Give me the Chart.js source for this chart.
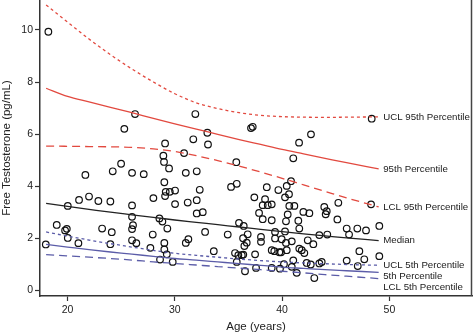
<!DOCTYPE html>
<html>
<head>
<meta charset="utf-8">
<script src="https://cdn.jsdelivr.net/npm/chart.js@4.4.1/dist/chart.umd.min.js"></script>
<style>
  body { margin: 0; background: #fff; }
</style>
</head>
<body>
<canvas id="myChart" width="474" height="334"></canvas>
<script>
// observed free testosterone per subject
const pointAge = [
  18.21, 26.29, 25.29, 24.99, 21.66, 24.21, 26.01, 27.10, 31.91, 33.03,
  31.72, 33.09, 37.10, 37.26, 29.09, 28.93, 28.99, 29.46, 30.86, 31.02,
  32.04, 29.02, 29.15, 29.53, 30.02, 32.32, 35.24, 35.77, 38.57, 35.73,
  48.35, 42.69, 41.58, 41.04, 40.83, 40.43, 39.65, 40.64, 20.02, 21.07,
  22.00, 22.87, 23.99, 26.01, 28.00, 26.01, 26.10, 26.01, 18.99, 19.93,
  19.77, 20.02, 23.22, 24.12, 27.94, 17.97, 21.01, 23.99, 26.01, 26.41,
  27.72, 29.09, 30.02, 31.20, 32.04, 32.04, 32.60, 28.56, 28.84, 29.30,
  37.41, 38.41, 38.19, 38.66, 37.85, 38.19, 35.98, 36.42, 32.82, 34.93,
  36.79, 36.36, 36.70, 36.48, 38.03, 38.03, 31.26, 31.02, 29.02, 29.02,
  29.25, 33.63, 35.61, 36.24, 36.38, 35.92, 37.48, 35.77, 36.54, 37.57,
  28.62, 29.80, 48.29, 45.24, 40.27, 39.03, 40.67, 41.14, 40.52, 41.98,
  42.54, 43.93, 44.16, 44.06, 39.03, 40.36, 41.51, 45.15, 41.60, 39.34,
  40.27, 46.02, 47.01, 47.82, 49.06, 46.24, 43.47, 44.21, 39.34, 39.96,
  40.36, 40.90, 42.39, 42.91, 39.03, 39.27, 39.74, 39.90, 40.43, 41.60,
  41.83, 42.07, 47.20, 47.66, 49.06, 46.02, 47.05, 41.04, 40.17, 39.80,
  40.90, 42.29, 42.67, 43.47, 43.69, 39.03, 41.36, 43.00
];
const pointFT = [
  9.93, 6.77, 6.20, 4.86, 4.43, 4.57, 4.51, 4.46, 6.77, 6.05,
  5.80, 5.60, 6.23, 6.28, 5.64, 5.17, 4.93, 4.68, 5.27, 4.51,
  4.57, 4.15, 3.78, 3.78, 3.83, 3.86, 3.97, 4.09, 3.96, 4.92,
  6.59, 5.99, 5.67, 5.07, 4.19, 4.01, 3.85, 3.69, 3.24, 3.47,
  3.60, 3.43, 3.41, 3.26, 3.54, 2.82, 2.50, 2.35, 2.51, 2.36,
  2.30, 2.01, 2.37, 2.23, 2.14, 1.76, 1.81, 1.77, 1.92, 1.81,
  1.63, 3.62, 3.31, 3.37, 3.46, 2.95, 3.00, 2.76, 2.64, 2.37,
  3.57, 3.50, 3.27, 3.27, 2.97, 2.73, 2.59, 2.47, 2.24, 2.14,
  2.15, 2.00, 1.83, 1.70, 2.05, 1.86, 1.96, 1.82, 1.82, 1.57,
  1.38, 1.50, 1.43, 1.35, 1.37, 1.35, 1.38, 1.09, 0.73, 0.86,
  1.18, 1.09, 3.30, 3.36, 3.57, 3.30, 3.24, 3.24, 2.91, 3.01,
  2.96, 3.20, 3.04, 2.92, 2.69, 2.65, 2.67, 2.72, 2.37, 2.24,
  2.26, 2.37, 2.37, 2.30, 2.47, 2.14, 2.12, 2.14, 1.99, 1.96,
  1.82, 1.88, 1.92, 1.77, 1.54, 1.50, 1.46, 1.46, 1.54, 1.60,
  1.54, 1.43, 1.50, 1.19, 1.31, 1.14, 0.93, 1.15, 1.00, 0.83,
  0.90, 1.05, 0.99, 1.03, 1.09, 0.86, 0.67, 0.47
];

// fitted percentile curves and their confidence limits
const curveAge = [18, 20, 22, 24, 26, 28, 30, 32, 34, 36, 38, 40, 42, 44, 46, 49];
const ucl95 = [10.96, 10.30, 9.65, 9.05, 8.50, 8.00, 7.55, 7.20, 6.98, 6.82, 6.72, 6.67, 6.65, 6.64, 6.65, 6.66];
const p95   = [7.76, 7.45, 7.24, 7.03, 6.82, 6.60, 6.39, 6.19, 5.99, 5.79, 5.60, 5.41, 5.24, 5.07, 4.90, 4.66];
const lcl95 = [5.54, 5.53, 5.52, 5.51, 5.49, 5.43, 5.33, 5.17, 4.98, 4.77, 4.54, 4.30, 4.05, 3.80, 3.55, 3.20];
const median = [3.34, 3.22, 3.11, 3.00, 2.90, 2.80, 2.70, 2.61, 2.52, 2.43, 2.34, 2.25, 2.17, 2.09, 2.01, 1.91];
const ucl5  = [2.24, 2.08, 1.93, 1.79, 1.66, 1.53, 1.42, 1.34, 1.27, 1.20, 1.14, 1.09, 1.05, 1.02, 0.99, 0.96];
const p5    = [1.76, 1.66, 1.56, 1.47, 1.39, 1.30, 1.22, 1.16, 1.09, 1.02, 0.96, 0.89, 0.84, 0.79, 0.75, 0.69];
const lcl5  = [1.37, 1.32, 1.27, 1.22, 1.16, 1.09, 1.03, 0.97, 0.91, 0.85, 0.79, 0.73, 0.67, 0.60, 0.54, 0.45];

const xTicks = [20, 30, 40, 50];
const yTicks = [0, 2, 4, 6, 8, 10];

const RED = '#e2493f';
const BLUE = '#5b5ca8';
const FONT = '"Liberation Sans", Arial, sans-serif';

function toXY(xs, ys) {
  return xs.map((v, i) => ({ x: v, y: ys[i] }));
}

function curve(label, values, color, dash) {
  return {
    type: 'line',
    endLabel: label,
    data: toXY(curveAge, values),
    borderColor: color,
    borderWidth: 1.3,
    borderDash: dash,
    pointRadius: 0,
    fill: false,
    cubicInterpolationMode: 'monotone'
  };
}

// writes the curve names at the right end, pushed down when they crowd
const curveLabels = {
  id: 'curveLabels',
  afterDatasetsDraw(chart) {
    const { ctx, scales: { x, y } } = chart;
    ctx.save();
    ctx.font = '9.7px ' + FONT;
    ctx.fillStyle = '#1a1a1a';
    ctx.textBaseline = 'middle';
    let prev = -Infinity;
    chart.data.datasets.forEach(ds => {
      if (!ds.endLabel) return;
      const last = ds.data[ds.data.length - 1];
      const py = Math.max(y.getPixelForValue(last.y), prev + 11);
      ctx.fillText(ds.endLabel, x.getPixelForValue(last.x) + 4.5, py);
      prev = py;
    });
    ctx.restore();
  }
};

// right side of the frame
const rightEdge = {
  id: 'rightEdge',
  afterDraw(chart) {
    const { ctx, chartArea } = chart;
    const xr = Math.round(chartArea.right) - 0.5;
    ctx.save();
    ctx.strokeStyle = '#444';
    ctx.lineWidth = 1.5;
    ctx.beginPath();
    ctx.moveTo(xr, chartArea.top);
    ctx.lineTo(xr, chartArea.bottom);
    ctx.stroke();
    ctx.restore();
  }
};

const axisGrid = { drawOnChartArea: false, drawTicks: true, tickLength: 5, color: '#333', tickWidth: 1.2 };
const axisBorder = { display: true, color: '#333', width: 1.5 };

new Chart(document.getElementById('myChart'), {
  type: 'scatter',
  data: {
    datasets: [
      curve('UCL 95th Percentile', ucl95, RED, [3, 3]),
      curve('95th Percentile', p95, RED, []),
      curve('LCL 95th Percentile', lcl95, RED, [8, 5]),
      curve('Median', median, '#222', []),
      curve('UCL 5th Percentile', ucl5, BLUE, [3, 3]),
      curve('5th Percentile', p5, BLUE, []),
      curve('LCL 5th Percentile', lcl5, BLUE, [8, 5]),
      {
        data: toXY(pointAge, pointFT),
        pointStyle: 'circle',
        pointRadius: 3.3,
        pointBorderWidth: 1.2,
        pointBackgroundColor: 'rgba(0,0,0,0)',
        pointBorderColor: '#111'
      }
    ]
  },
  options: {
    responsive: false,
    animation: false,
    layout: { autoPadding: false, padding: { top: 0, right: 2, left: 0, bottom: 0 } },
    plugins: { legend: { display: false }, tooltip: { enabled: false } },
    scales: {
      x: {
        type: 'linear',
        min: 17.43,
        max: 57.7,
        afterBuildTicks: s => { s.ticks = xTicks.map(v => ({ value: v })); },
        afterFit: s => { s.height = 38; s.paddingLeft = 0; s.paddingRight = 0; },
        grid: axisGrid,
        border: axisBorder,
        ticks: { color: '#222', padding: 3, font: { family: FONT, size: 10.5 } },
        title: { display: true, text: 'Age (years)', color: '#222', padding: { top: 0, bottom: 0 }, font: { family: FONT, size: 11.5 } }
      },
      y: {
        type: 'linear',
        min: -0.22,
        max: 11.15,
        afterBuildTicks: s => { s.ticks = yTicks.map(v => ({ value: v })); },
        afterFit: s => { s.width = 40; s.paddingTop = 0; s.paddingBottom = 0; },
        grid: axisGrid,
        border: axisBorder,
        ticks: { color: '#222', padding: 2, font: { family: FONT, size: 10.5 } },
        title: { display: true, text: 'Free Testosterone (pg/mL)', color: '#222', padding: { top: 0, bottom: 0 }, font: { family: FONT, size: 11.5 } }
      }
    }
  },
  plugins: [curveLabels, rightEdge]
});
</script>
</body>
</html>
